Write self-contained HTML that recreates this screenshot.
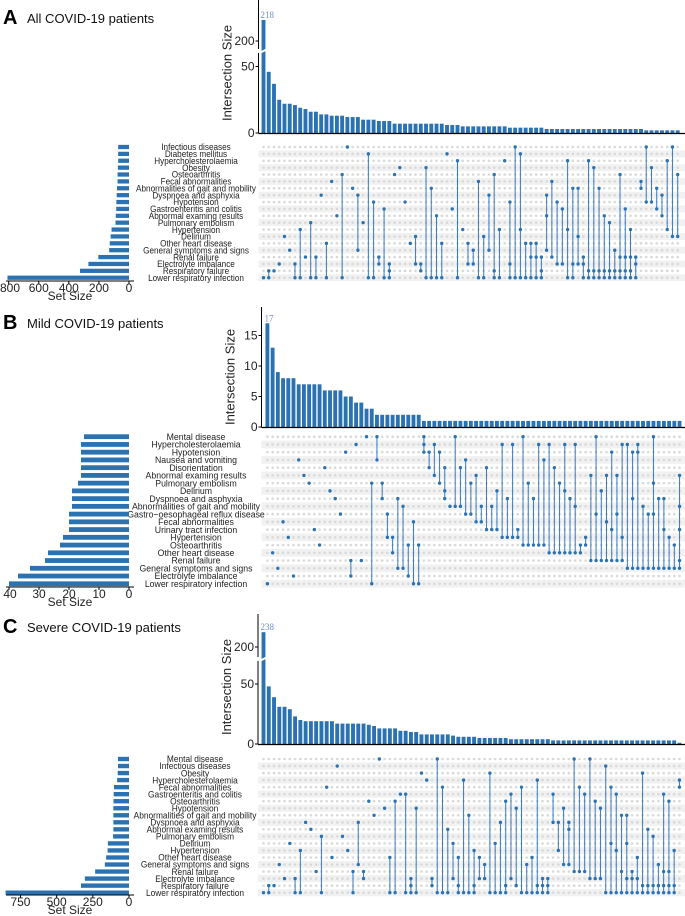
<!DOCTYPE html>
<html><head><meta charset="utf-8"><style>
html,body{margin:0;padding:0;background:#fff;}
svg{display:block;font-family:"Liberation Sans",sans-serif;}
</style></head><body>
<svg id="fig" width="685" height="916" viewBox="0 0 685 916" xmlns="http://www.w3.org/2000/svg"></svg>
<script>
// ---------- Panel A data ----------
const namesA=["Infectious diseases","Diabetes mellitus","Hypercholesterolaemia","Obesity","Osteoarthritis","Fecal abnormalities","Abnormalities of gait and mobility","Dyspnoea and asphyxia","Hypotension","Gastroenteritis and colitis","Abnormal examing results","Pulmonary embolism","Hypertension","Delirium","Other heart disease","General symptoms and signs","Renal failure","Electrolyte imbalance","Respiratory failure","Lower respiratory infection"];
const setSizeA=[72,72,72,74,76,76,80,82,84,85,88,90,116,122,128,132,204,270,326,808];
const barsA=[218,46,37,25,22,22,21,19,18,16,16,14,14,13,13,13,12,12,12,10,10,10,9,9,9,7,7,7,7,7,7,7,7,7,7,6,6,6,5,5,5,5,5,5,5,5,5,4,4,4,4,4,4,4,3,3,3,3,3,3,3,3,3,3,3,3,3,3,3,3,3,3,3,2,2,2,2,2,2,2];
const colsA=[[19],[18,19],[18],[17],[13],[15],[17,19],[12,19],[16],[11,19],[16,19],[7],[14,19],[5],[10],[4,19],[0],[6],[7,15],[11],[1,19],[8,19],[16,17],[9,19],[17,18,19],[4],[3],[8],[14],[13,17],[17,18],[3,19],[6,19],[10,19],[14,19],[1],[9],[2,19],[12],[14,17],[15,17],[5,19],[13,19],[7,15],[4,18,19],[12,19],[2],[8,17,19],[0,19],[1,12,19],[14,19],[14,16,19],[14,16,19],[16,18,19],[7,10,15],[5,16],[8,17],[9,17],[2,12,19],[6,17,19],[6,13,17],[16,17,19],[2,18,19],[3,18,19],[6,18,19],[10,18,19],[11,18,19],[15,18,19],[4,16,18,19],[9,16,18,19],[12,16,18,19],[16,17,19],[5,6],[0,8],[3,8],[6,9],[7,10],[2,12],[0,13],[4,13]];
const ticksA=[0,50,200];
const setTicksA=[800,600,400,200,0];
// ---------- Panel B data ----------
const namesB=["Mental disease","Hypercholesterolaemia","Hypotension","Nausea and vomiting","Disorientation","Abnormal examing results","Pulmonary embolism","Delirium","Dyspnoea and asphyxia","Abnormalities of gait and mobility","Gastro\u2212oesophageal reflux disease","Fecal abnormalities","Urinary tract infection","Hypertension","Osteoarthritis","Other heart disease","Renal failure","General symptoms and signs","Electrolyte imbalance","Lower respiratory infection"];
const setSizeB=[15,16,16,16,16,16,17,19,19,19,20,20,20,22,23,27,28,33,37,40];
const barsB=[17,13,9,8,8,8,7,7,7,7,7,6,6,6,6,5,5,4,4,3,3,2,2,2,2,2,2,2,2,2,1,1,1,1,1,1,1,1,1,1,1,1,1,1,1,1,1,1,1,1,1,1,1,1,1,1,1,1,1,1,1,1,1,1,1,1,1,1,1,1,1,1,1,1,1,1,1,1,1,1];
const colsB=[[19],[15],[17],[11],[13],[18],[3],[5],[6],[12],[14],[4],[7],[8],[10],[2],[16,18],[1],[16],[0],[6,19],[0,3],[6,8],[10,13],[13,15],[8,17],[9,17],[14,18],[11,19],[14,19],[0,1,2],[2,4],[1,5],[2,6],[4,7,8],[9],[0,9],[4,9],[3,10],[6,10],[5,11],[9,11],[4,12],[9,12],[7,12],[1,13],[8,13],[1,13],[12,13],[0,14],[6,14],[8,14],[1,14],[3,14],[1,15],[4,15],[6,15],[1,7,15],[8,15],[1,9,15],[14,15],[13,14],[5,16],[0,10,16],[7,16],[5,11,16],[2,12,16],[5,10,16],[1,13,16],[1,17],[2,8,17],[1,2,17],[9,17],[10,17],[0,6,10,17],[8,17],[8,12,17],[13,17],[14,17],[5,9,12,16,17]];
const ticksB=[0,5,10,15];
const setTicksB=[40,30,20,10,0];
// ---------- Panel C data ----------
const namesC=["Mental disease","Infectious diseases","Obesity","Hypercholesterolaemia","Fecal abnormalities","Gastroenteritis and colitis","Osteoarthritis","Hypotension","Abnormalities of gait and mobility","Dyspnoea and asphyxia","Abnormal examing results","Pulmonary embolism","Delirium","Hypertension","Other heart disease","General symptoms and signs","Renal failure","Electrolyte imbalance","Respiratory failure","Lower respiratory infection"];
const setSizeC=[76,76,78,82,104,106,107,108,108,108,108,110,146,148,158,167,234,305,332,853];
const barsC=[238,48,39,31,31,29,23,20,19,19,19,19,19,19,17,17,17,17,17,17,16,15,13,13,13,13,11,11,10,10,8,8,8,8,8,8,7,6,6,6,6,5,5,5,5,5,5,4,4,4,4,4,4,4,4,3,3,3,3,3,3,3,3,3,3,3,3,3,3,3,3,3,3,3,3,3,3,3,3,1];
const colsC=[[19],[18,19],[18],[15],[17],[12],[17,19],[13,19],[9],[10],[16],[11,19],[4],[14],[1],[11],[13],[16,19],[9,15],[16,17],[6],[8],[0],[7],[14,19],[6,19],[5],[5,19],[17,18,19],[7,19],[2],[3],[17,18],[0,19],[4,19],[10,19],[12,17],[14,18,19],[3,19],[8,19],[13,18,19],[14,17],[15,17],[2,19],[12,19],[9,19],[6,18,19],[5,17],[7,18],[4,19],[15,19],[14,19],[3,18,19],[17,18,19],[17,18,19],[5,9],[9,13],[7,15],[9,10,15],[0,16],[4,16],[5,16],[0,17],[6,17],[7,17],[1,19],[4,12,19],[5,13,19],[8,16,19],[8,12,17,19],[16,17,19],[14,17,19],[2,18,19],[10,18,19],[11,18,19],[15,18,19],[5,16,18,19],[6,16,18,19],[13,18,19],[3,4]];
const ticksC=[0,50,200];
const setTicksC=[750,500,250,0];

const NS="http://www.w3.org/2000/svg";
const svg=document.getElementById('fig');
const BLUE="#2b72b3";
function mk(tag,attrs,parent){const e=document.createElementNS(NS,tag);for(const k in attrs)e.setAttribute(k,attrs[k]);(parent||svg).appendChild(e);return e;}

function panel(id,letter,title,L,names,sizes,bars,cols,ticks,setTicks){
  const g=mk('g',{});
  
  
  const tl=mk('text',{x:3,y:L.titleY,'font-size':20,'font-weight':'bold',fill:'#000'},g);
  tl.textContent=letter;
  
  
  const tt=mk('text',{x:27,y:L.titleY-1,'font-size':13,fill:'#111'},g);
  tt.textContent=title;
  
  
  function yv(v){
    if(!L.brk||v<=L.brkVal) return L.base-v*L.s1;
    return L.refY-(v-L.refV)*L.s2;
  }
  const colX=i=>L.x0+i*L.dx;
  const bw=L.dx*0.74;
  const bg=mk('g',{},g);
  
  
  bars.forEach((v,i)=>{
    const y=yv(v);
    const r=mk('rect',{x:colX(i)-bw/2,y:y,width:bw,height:L.base-y,fill:BLUE},bg);
    
    
  });
  if(L.brk){
    mk('line',{x1:colX(0)-bw,y1:L.brkY+2,x2:colX(0)+bw,y2:L.brkY-2,stroke:'#fff','stroke-width':2},g);
  }
  const lab=mk('text',{x:colX(0)-bw/2-1,y:yv(bars[0])-2,'font-size':9,fill:'#6b8fc4','font-family':'Liberation Serif,serif'},g);
  lab.textContent=String(bars[0]);
  
  
  const ax=mk('line',{x1:L.axX,y1:L.axTop,x2:L.axX,y2:L.base+0.5,stroke:'#000','stroke-width':1},g);
  
  
  if(L.brk){ mk('rect',{x:L.axX-2,y:L.brkY-2,width:4,height:4,fill:'#fff'},g); }
  const bx=mk('line',{x1:L.axX,y1:L.base+0.5,x2:685,y2:L.base+0.5,stroke:'#000','stroke-width':1.2},g);
  
  
  ticks.forEach(t=>{
    const y=yv(t);
    mk('line',{x1:L.axX-3,y1:y,x2:L.axX,y2:y,stroke:'#000'},g);
    const tx=mk('text',{x:L.axX-4,y:y+4,'font-size':12,'text-anchor':'end',fill:'#222'},g);
    tx.textContent=t;
    
    
  });
  const yt=mk('text',{x:0,y:0,'font-size':13,'text-anchor':'middle',fill:'#222',transform:`translate(${L.axX-27},${L.ytY}) rotate(-90)`},g);
  yt.textContent='Intersection Size';
  
  
  const rowY=r=>L.my0+r*L.mdy;
  const mg=mk('g',{},g);
  
  
  names.forEach((n,r)=>{
    if(r%2===1) mk('rect',{x:L.axX,y:rowY(r)-L.mdy/2,width:685-L.axX,height:L.mdy,fill:'#f1f1f1'},mg);
  });
  cols.forEach((c,i)=>{
    const x=colX(i);
    names.forEach((n,r)=>{ if(c.indexOf(r)<0) mk('circle',{cx:x,cy:rowY(r),r:1.3,fill:'#d9d9d9'},mg); });
  });
  cols.forEach((c,i)=>{
    const x=colX(i);
    const mn=Math.min(...c),mx=Math.max(...c);
    if(mx>mn) mk('line',{x1:x,y1:rowY(mn),x2:x,y2:rowY(mx),stroke:'#3a7bbd','stroke-width':1},mg);
    c.forEach(r=>{
      const d=mk('circle',{cx:x,cy:rowY(r),r:1.7,fill:BLUE},mg);
      
      
    });
  });
  const sx=v=>L.sx0-v*L.ss;
  names.forEach((n,r)=>{
    const t=mk('text',{x:0,y:0,'font-size':L.lf,'text-anchor':'middle',fill:'#222',transform:`translate(${L.lx},${rowY(r)+3.2}) scale(0.93,1)`},g);
    t.textContent=n;
    
    
    const bh=L.mdy*0.62;
    const b=mk('rect',{x:sx(sizes[r]),y:rowY(r)-bh/2,width:L.sx0-sx(sizes[r]),height:bh,fill:BLUE},g);
    
    
  });
  const sa=mk('line',{x1:6,y1:L.sAxY,x2:L.sx0+5,y2:L.sAxY,stroke:'#000','stroke-width':1},g);
  
  
  setTicks.forEach(t=>{
    mk('line',{x1:sx(t),y1:L.sAxY,x2:sx(t),y2:L.sAxY+3,stroke:'#000'},g);
    const tx=mk('text',{x:Math.max(sx(t),10),y:L.sAxY+11,'font-size':12,'text-anchor':'middle',fill:'#222'},g);
    tx.textContent=t;
    
    
  });
  const st=mk('text',{x:70,y:Math.min(L.sAxY+19,914),'font-size':12,'text-anchor':'middle',fill:'#222'},g);
  st.textContent='Set Size';
  
  
}

panel('a','A','All COVID-19 patients',
 {titleY:24,axX:258.5,axTop:0,base:133,brk:true,brkVal:61,brkY:51,s1:1.33,refY:41,refV:200,s2:1.17,x0:263.5,dx:5.243,ytY:73,
  my0:147,mdy:6.88,lx:196,lf:8.8,sx0:129,ss:0.1504,sAxY:281},
 namesA,setSizeA,barsA,colsA,ticksA,setTicksA);
panel('b','B','Mild COVID-19 patients',
 {titleY:329,axX:261.5,axTop:307,base:427,brk:false,s1:6.1,x0:267.4,dx:5.217,ytY:377,
  my0:436.7,mdy:7.74,lx:196,lf:9.4,sx0:129,ss:3.0,sAxY:587},
 namesB,setSizeB,barsB,colsB,ticksB,setTicksB);
panel('c','C','Severe COVID-19 patients',
 {titleY:633,axX:258,axTop:614,base:744,brk:true,brkVal:71,brkY:659,s1:1.2,refY:647,refV:200,s2:0.39,x0:263.5,dx:5.265,ytY:687,
  my0:759,mdy:7.035,lx:195,lf:9,sx0:129,ss:0.1447,sAxY:895},
 namesC,setSizeC,barsC,colsC,ticksC,setTicksC);
</script>
</body></html>
